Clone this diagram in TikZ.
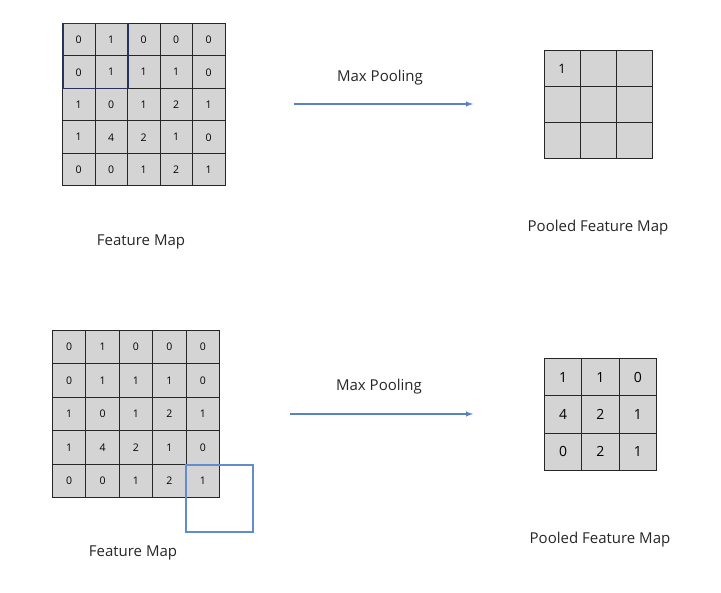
\documentclass[tikz,border=0pt]{standalone}
\usepackage{fontspec}
\setmainfont{Open Sans}
\definecolor{arrblue}{RGB}{90,130,195}
\definecolor{boxblue}{RGB}{100,140,205}
\definecolor{navy}{RGB}{40,50,90}
\begin{document}
\begin{tikzpicture}[x=1pt,y=-1pt,
  cell/.style={draw=black!85,fill=black!17,line width=1pt,minimum size=#1,inner sep=0pt,anchor=north west,font=\fontsize{10.5}{12}\selectfont},
  lbl/.style={font=\fontsize{15}{17}\selectfont,text=black!85},
  arr/.style={draw=arrblue,line width=1.4pt,-latex}]
\useasboundingbox (0,0) rectangle (721,593);
\foreach \r/\row in {0/{0,1,0,0,0},1/{0,1,1,1,0},2/{1,0,1,2,1},3/{1,4,2,1,0},4/{0,0,1,2,1}}{
  \foreach \v [count=\c from 0] in \row {
    \node[cell=32.5pt] (t\r\c) at ({62+32.5*\c},{23+32.5*\r}) {\v};
    \node[cell=33.4pt] (b\r\c) at ({52+33.4*\c},{330+33.4*\r}) {\v};
  }}
\node[draw=navy,line width=1.5pt,minimum size=65pt,inner sep=0pt,anchor=north west] (tw) at (62,23) {};
\node[draw=boxblue,line width=1.8pt,minimum size=67pt,inner sep=0pt,anchor=north west] (bw) at (185,464) {};
\foreach \r in {0,1,2}{\foreach \c in {0,1,2}{
  \node[cell=36pt] (p\r\c) at ({544+36*\c},{50+36*\r}) {};}}
\node[font=\fontsize{13}{14}\selectfont] (one) at (562,69) {1};
\foreach \r/\row in {0/{1,1,0},1/{4,2,1},2/{0,2,1}}{
  \foreach \v [count=\c from 0] in \row {
    \node[cell=37.3pt,font=\fontsize{14}{16}\selectfont] (q\r\c) at ({544+37.3*\c},{358+37.3*\r}) {\v};}}
\coordinate (a1) at (294,104); \coordinate (a2) at (473,104);
\coordinate (c1) at (290,414); \coordinate (c2) at (473,414);
\draw[arr] (a1) -- (a2);
\draw[arr] (c1) -- (c2);
\node[lbl] (m1) at (380,78) {Max Pooling};
\node[lbl] (m2) at (379,387) {Max Pooling};
\node[lbl] (f1) at (141,242) {Feature Map};
\node[lbl] (f2) at (133,553) {Feature Map};
\node[lbl] (g1) at (598,228) {Pooled Feature Map};
\node[lbl] (g2) at (600,540) {Pooled Feature Map};
\end{tikzpicture}
\end{document}
